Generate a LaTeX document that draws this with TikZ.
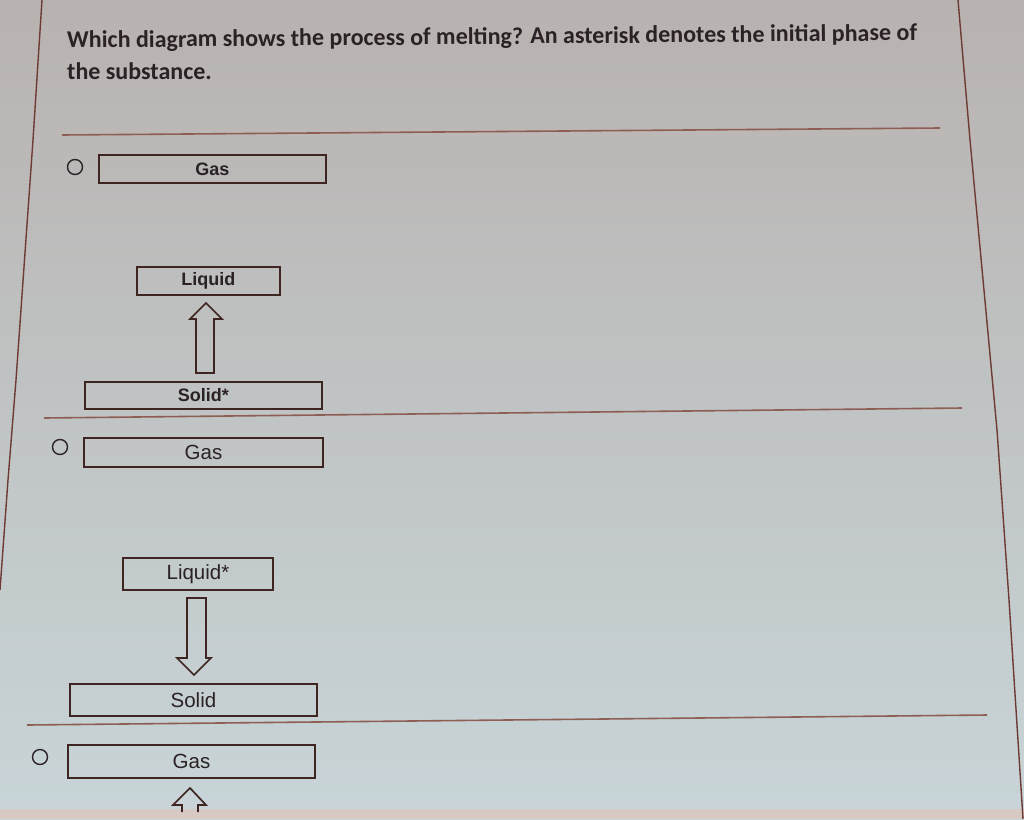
\documentclass[tikz,border=0pt]{standalone}
\usepackage{fontspec}
\setmainfont{Carlito}
\newfontfamily\boxfont{Liberation Sans}
\begin{document}
\begin{tikzpicture}[x=1pt,y=-1pt,
  sepline/.style={draw=sepc,line width=1.6pt},
  border/.style={draw=bordc,line width=1.4pt},
  phasebox/.style={draw=boxc,line width=1.9pt,inner sep=0pt,anchor=north west,
     font=\boxfont\fontsize{20.5}{22}\selectfont,text=txtc},
  boldlabel/.style={font=\boxfont\bfseries\fontsize{18}{20}\selectfont},
  radio/.style={draw=txtc,line width=1.4pt,circle,inner sep=0pt,minimum size=15pt},
  question/.style={anchor=base west,font=\bfseries\fontsize{24}{26}\selectfont,text=txtc,inner sep=0pt},
  blockarrow/.style={draw=boxc,line width=1.7pt,line join=miter}]
\definecolor{bgtop}{HTML}{B8B2B0}
\definecolor{bgmid}{HTML}{BFC4C4}
\definecolor{bgbot}{HTML}{C8D5D8}
\definecolor{band}{HTML}{D9C9C5}
\definecolor{sepc}{HTML}{8E5E54}
\definecolor{bordc}{HTML}{6E3A34}
\definecolor{boxc}{HTML}{3E2522}
\definecolor{txtc}{HTML}{2A2225}
\useasboundingbox (0,0) rectangle (1024,819);
\shade[top color=bgtop,middle color=bgmid,bottom color=bgbot] (0,0) rectangle (1024,819);
\fill[band] (0,809) rectangle (1024,819);
% screen borders
\draw[border] (42,0) -- (33,140) -- (16,380) -- (8,480) -- (0,590);
\draw[border] (958,0) -- (970,140) -- (997,430) -- (1009,600) -- (1023,819);
% question
\node[question,rotate=0.5] (q1) at (67,48)
  {Which diagram shows the process of melting? An asterisk denotes the initial phase of};
\node[question] (q2) at (67,79) {the substance.};
% separators
\draw[sepline] (62,135) -- (940,128);
\draw[sepline] (44,418) -- (962,408);
\draw[sepline] (27,725) -- (987,715);
% option 1
\node[radio] (r1) at (75,167) {};
\node[phasebox,boldlabel,minimum width=227pt,minimum height=28pt] (g1) at (98,154) {Gas};
\node[phasebox,boldlabel,minimum width=143pt,minimum height=28pt] (l1) at (136,266) {Liquid};
\node[phasebox,boldlabel,minimum width=237pt,minimum height=27pt] (s1) at (84,381) {Solid*};
\draw[blockarrow] (206,303) -- (222,319) -- (214,319) -- (214,373) -- (196,373) -- (196,319) -- (190,319) -- cycle;
% option 2
\node[radio] (r2) at (60,447) {};
\node[phasebox,minimum width=239pt,minimum height=29pt] (g2) at (83,437) {Gas};
\node[phasebox,minimum width=150pt,minimum height=32pt] (l2) at (122,557) {Liquid*};
\node[phasebox,minimum width=247pt,minimum height=32pt] (s2) at (69,683) {Solid};
\draw[blockarrow] (187,598) -- (206,598) -- (206,658) -- (211,658) -- (194,675) -- (177,658) -- (187,658) -- cycle;
% option 3
\node[radio] (r3) at (40,757) {};
\node[phasebox,minimum width=247pt,minimum height=33pt] (g3) at (67,744) {Gas};
\draw[blockarrow] (182,812) -- (182,805) -- (173,805) -- (190,788) -- (206,805) -- (198,805) -- (198,812);
\end{tikzpicture}
\end{document}
